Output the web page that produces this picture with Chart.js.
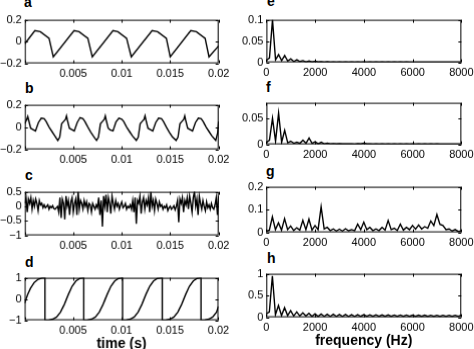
<!DOCTYPE html>
<html>
<head>
<meta charset="utf-8">
<script src="https://cdn.jsdelivr.net/npm/chart.js@4.4.0/dist/chart.umd.min.js"></script>
<style>
  body { margin: 0; width: 474px; height: 349px; overflow: hidden; background: #fff; position: relative;
         font-family: "Liberation Sans", Arial, Helvetica, sans-serif; }
  canvas { position: absolute; }
  .lbl { position: absolute; font-weight: bold; font-size: 14px; line-height: 14px; color: #000; }
</style>
</head>
<body>
<div class="lbl" style="left:24px;top:-5px">a</div>
<div class="lbl" style="left:25px;top:81px">b</div>
<div class="lbl" style="left:25px;top:168px">c</div>
<div class="lbl" style="left:25px;top:255px">d</div>
<div class="lbl" style="left:267px;top:-6px">e</div>
<div class="lbl" style="left:266px;top:80px">f</div>
<div class="lbl" style="left:266px;top:164px">g</div>
<div class="lbl" style="left:267px;top:251px">h</div>

<canvas id="a"></canvas><canvas id="b"></canvas><canvas id="c"></canvas><canvas id="d"></canvas>
<canvas id="e"></canvas><canvas id="f"></canvas><canvas id="g"></canvas><canvas id="h"></canvas>

<script>
// ---- data: time signals (s, amplitude) ----
const aTime = [0, 0.00104, 0.0016, 0.0025, 0.00294, 0.00508, 0.0056, 0.0065, 0.00696, 0.0091, 0.0096,
  0.0105, 0.01098, 0.01313, 0.0137, 0.0146, 0.015, 0.01712, 0.0177, 0.0186, 0.019, 0.02];
const aVals = [-0.02, 0.1, 0.09, 0.03, -0.14, 0.1, 0.09, 0.03, -0.14, 0.1, 0.09,
  0.03, -0.14, 0.1, 0.09, 0.03, -0.14, 0.1, 0.09, 0.03, -0.14, -0.04];

const bTime = [0, 0.0002, 0.0003, 0.0004, 0.0006, 0.0008, 0.0011, 0.0014, 0.0017, 0.002, 0.0022, 0.0025, 0.0028, 0.0031, 0.0034,
  0.0036, 0.0038, 0.004, 0.0042, 0.0043, 0.0044, 0.0046, 0.0048, 0.0051, 0.0054, 0.0057, 0.006, 0.0062, 0.0065, 0.0068, 0.0071, 0.0074,
  0.0076, 0.0078, 0.008, 0.0082, 0.0083, 0.0084, 0.0086, 0.0088, 0.0091, 0.0094, 0.0097, 0.01, 0.0102, 0.0105, 0.0108, 0.0111, 0.0115,
  0.0117, 0.0119, 0.0121, 0.0123, 0.0124, 0.0125, 0.0127, 0.0129, 0.0132, 0.0135, 0.0138, 0.0141, 0.0143, 0.0146, 0.0149, 0.0152, 0.0156,
  0.0158, 0.016, 0.0162, 0.0164, 0.0165, 0.0166, 0.0168, 0.017, 0.0173, 0.0176, 0.0179, 0.0182, 0.0184, 0.0187, 0.019, 0.0193, 0.0197,
  0.0199, 0.02];
const bVals = [0.03, 0.07, 0.095, 0.06, -0.01, -0.02, -0.035, 0.04, 0.08, 0.075, 0.05, 0.0, -0.04, -0.08, -0.12,
  -0.09, 0.03, 0.05, 0.07, 0.1, 0.06, -0.01, -0.02, -0.035, 0.04, 0.085, 0.075, 0.05, 0.0, -0.045, -0.085, -0.12,
  -0.09, 0.03, 0.05, 0.07, 0.1, 0.06, -0.01, -0.025, -0.035, 0.045, 0.08, 0.07, 0.05, 0.0, -0.04, -0.08, -0.12,
  -0.09, 0.03, 0.05, 0.07, 0.1, 0.06, -0.01, -0.02, -0.035, 0.04, 0.08, 0.075, 0.05, 0.0, -0.045, -0.085, -0.12,
  -0.09, 0.03, 0.05, 0.07, 0.1, 0.06, -0.01, -0.02, -0.035, 0.04, 0.08, 0.075, 0.05, 0.0, -0.04, -0.08, -0.12,
  -0.05, 0.05];

// noise signal, one value every 0.000125 s
const cStep = 0.000125;
const cVals = [0.1, 0.3, -0.2, 0.25, 0.1, 0.3, -0.1, 0.2,
  0.0, 0.25, 0.1, -0.15, 0.2, 0.05, 0.1, -0.05,
  0.05, -0.05, 0.0, 0.05, -0.1, 0.0, -0.05, 0.02, -0.08, -0.1, -0.05, 0.0,
  -0.2, 0.3, -0.4, 0.25, 0.1, -0.45, 0.35, 0.0, 0.2, -0.3, 0.15, 0.3, -0.2, 0.1, 0.25, -0.3, 0.5, -0.1, 0.2, 0.1,
  -0.1, 0.2, 0.0, 0.15, -0.15, 0.1, 0.05, -0.2, 0.1, 0.0, -0.1, 0.05, -0.05,
  0.3, -0.3, 0.2, -0.7, 0.35, 0.0, 0.4, -0.2, 0.3, 0.1, -0.25, 0.35,
  0.1, -0.1, 0.2, 0.0, 0.1, -0.1, 0.05, 0.15, -0.05, 0.0, 0.1, -0.1, 0.0, -0.05, 0.05, -0.1,
  0.2, -0.2, 0.3, -0.6, 0.2, 0.1, 0.35, -0.25, 0.15, 0.3, -0.1, 0.2,
  0.05, 0.3, -0.2, 0.5, 0.0, 0.2, -0.15, 0.25, 0.1, -0.1, 0.15, 0.0,
  0.05, -0.1, 0.0, -0.05, 0.05, -0.15, -0.05, 0.0, -0.1, -0.05, 0.02, -0.12, 0.0,
  0.2, -0.55, 0.25, 0.1, 0.3, -0.2, 0.2, 0.05, 0.3, -0.1, 0.35, 0.1, -0.2, 0.3, 0.5,
  0.0, 0.25, -0.3, 0.35, 0.1, -0.1, 0.2, 0.0, -0.15, 0.15, -0.05, 0.05, -0.1, 0.1, -0.05, -0.1, 0.05, 0.3, -0.3, 0.35];
const cTime = cVals.map((v, i) => i * cStep);

const dTime = [0, 0.0003, 0.0006, 0.001, 0.0014, 0.0018, 0.0021,
  0.0021, 0.0025, 0.0029, 0.0033, 0.0037, 0.0041, 0.0045, 0.0049, 0.0053, 0.0057, 0.0061,
  0.0061, 0.0065, 0.0069, 0.0073, 0.0077, 0.0081, 0.0085, 0.0089, 0.0093, 0.0097, 0.0101,
  0.0101, 0.0105, 0.0109, 0.0113, 0.0117, 0.0121, 0.0125, 0.0129, 0.0133, 0.0137, 0.0142,
  0.0142, 0.0146, 0.015, 0.0154, 0.0158, 0.0162, 0.0166, 0.017, 0.0174, 0.0178, 0.0182,
  0.0182, 0.0186, 0.019, 0.0194, 0.0198, 0.02];
const dVals = [-0.2, 0.2, 0.5, 0.78, 0.93, 0.99, 1,
  -1, -0.99, -0.95, -0.85, -0.62, -0.25, 0.2, 0.6, 0.85, 0.97, 1,
  -1, -0.99, -0.95, -0.85, -0.62, -0.25, 0.2, 0.6, 0.85, 0.97, 1,
  -1, -0.99, -0.95, -0.85, -0.62, -0.25, 0.2, 0.6, 0.85, 0.97, 1,
  -1, -0.99, -0.95, -0.85, -0.62, -0.25, 0.2, 0.6, 0.85, 0.97, 1,
  -1, -0.99, -0.95, -0.85, -0.62, -0.35];

// ---- data: spectra, one value every 125 Hz ----
const freqStep = 125;
const eVals = [0.005, 0.01, 0.1, 0.006, 0.018, 0.004, 0.016, 0.003, 0.008, 0.002,
  0.006, 0.002, 0.004, 0.001, 0.003, 0.001, 0.0025, 0.001, 0.0015, 0.0006,
  0.0015, 0.0005, 0.0012, 0.0005, 0.0012, 0.0004, 0.001, 0.0004, 0.001, 0.0004,
  0.001, 0.0004, 0.0009, 0.0004, 0.0009, 0.0003, 0.0008, 0.0003, 0.0008, 0.0003,
  0.0008, 0.0003, 0.0007, 0.0003, 0.0007, 0.0003, 0.0007, 0.0003, 0.0006, 0.0003,
  0.0006, 0.0003, 0.0006, 0.0003, 0.0006, 0.0003, 0.0005, 0.0003, 0.0005, 0.0003,
  0.0005, 0.0003, 0.0005, 0.0003, 0.0005];
const fVals = [0.004, 0.008, 0.05, 0.006, 0.06, 0.004, 0.027, 0.003, 0.006, 0.002,
  0.004, 0.002, 0.008, 0.002, 0.012, 0.002, 0.005, 0.001, 0.004, 0.001,
  0.002, 0.001, 0.0015, 0.0007, 0.0012, 0.0006, 0.001, 0.0006, 0.001, 0.0005,
  0.0012, 0.0006, 0.002, 0.0006, 0.001, 0.0005, 0.0009, 0.0005, 0.0008, 0.0005,
  0.0008, 0.0004, 0.0008, 0.0004, 0.0007, 0.0004, 0.0008, 0.0004, 0.001, 0.0004,
  0.0007, 0.0004, 0.0006, 0.0004, 0.0006, 0.0004, 0.0006, 0.0003, 0.0005, 0.0003,
  0.0005, 0.0003, 0.0005, 0.0003, 0.0005];
const gVals = [0.005, 0.01, 0.068, 0.012, 0.042, 0.01, 0.06, 0.012, 0.028, 0.008,
  0.02, 0.01, 0.053, 0.012, 0.058, 0.01, 0.03, 0.012, 0.112, 0.015,
  0.022, 0.008, 0.015, 0.006, 0.014, 0.006, 0.016, 0.007, 0.012, 0.008,
  0.036, 0.012, 0.045, 0.012, 0.022, 0.008, 0.015, 0.008, 0.022, 0.01,
  0.052, 0.012, 0.018, 0.008, 0.036, 0.01, 0.022, 0.012, 0.03, 0.014,
  0.032, 0.015, 0.025, 0.018, 0.05, 0.03, 0.078, 0.035, 0.03, 0.012,
  0.015, 0.006, 0.012, 0.004, 0.006];
const hVals = [0.08, 0.12, 0.95, 0.06, 0.27, 0.04, 0.22, 0.04, 0.15, 0.03,
  0.12, 0.03, 0.1, 0.03, 0.09, 0.02, 0.08, 0.02, 0.075, 0.02,
  0.07, 0.02, 0.068, 0.02, 0.065, 0.02, 0.063, 0.02, 0.06, 0.02,
  0.06, 0.02, 0.058, 0.02, 0.056, 0.02, 0.055, 0.02, 0.054, 0.02,
  0.052, 0.02, 0.051, 0.02, 0.05, 0.02, 0.05, 0.02, 0.049, 0.02,
  0.048, 0.02, 0.047, 0.02, 0.046, 0.02, 0.046, 0.02, 0.045, 0.02,
  0.045, 0.02, 0.044, 0.02, 0.044];
const freqs = eVals.map((v, i) => i * freqStep);

// ---- tick labels ----
const timeTicks = [0, 0.005, 0.01, 0.015, 0.02];
const timeLabels = ['', '0.005', '0.01', '0.015', '0.02'];
const freqTicks = [0, 2000, 4000, 6000, 8000];
const freqLabels = ['0', '2000', '4000', '6000', '8000'];
const ticks02 = [-0.2, 0, 0.2], labels02 = ['\u22120.2', '0', '0.2'];
const ticksC = [-1, -0.5, 0, 0.5], labelsC = ['\u22121', '\u22120.5', '0', '0.5'];
const ticksD = [-1, 0, 1], labelsD = ['\u22121', '0', '1'];
const ticksE = [0, 0.05, 0.1], labelsE = ['0', '0.05', '0.1'];
const ticksF = [0, 0.05], labelsF = ['0', '0.05'];
const ticksG = [0, 0.1, 0.2], labelsG = ['0', '0.1', '0.2'];
const ticksH = [0, 0.5, 1], labelsH = ['0', '0.5', '1'];

const FONT = "'Liberation Sans', Arial, Helvetica, sans-serif";

// box around the plot with inward ticks on all four sides
const boxPlugin = {
  id: 'matlabBox',
  afterDraw(chart) {
    const { ctx, chartArea: a, scales } = chart;
    ctx.save();
    ctx.strokeStyle = '#000';
    ctx.lineWidth = 1;
    ctx.strokeRect(a.left + 0.5, a.top + 0.5, a.right - a.left - 1, a.bottom - a.top - 1);
    ctx.beginPath();
    scales.x.ticks.forEach(t => {
      const px = Math.round(scales.x.getPixelForValue(t.value)) + 0.5;
      ctx.moveTo(px, a.bottom); ctx.lineTo(px, a.bottom - 3);
      ctx.moveTo(px, a.top); ctx.lineTo(px, a.top + 3);
    });
    scales.y.ticks.forEach(t => {
      const py = Math.round(scales.y.getPixelForValue(t.value)) + 0.5;
      ctx.moveTo(a.left, py); ctx.lineTo(a.left + 3, py);
      ctx.moveTo(a.right, py); ctx.lineTo(a.right - 3, py);
    });
    ctx.stroke();
    ctx.restore();
  }
};

// panels: box = [left, top, width, height] of the plot area in the page
const panels = [
  { id: 'a', box: [25, 20, 193, 43], xs: aTime, ys: aVals, xmax: 0.02, ymin: -0.2, ymax: 0.2, xt: timeTicks, xl: timeLabels, yt: ticks02, yl: labels02 },
  { id: 'b', box: [25, 105, 193, 44], xs: bTime, ys: bVals, xmax: 0.02, ymin: -0.2, ymax: 0.2, xt: timeTicks, xl: timeLabels, yt: ticks02, yl: labels02 },
  { id: 'c', box: [25, 192, 193, 43], xs: cTime, ys: cVals, xmax: 0.02, ymin: -1, ymax: 0.5, xt: timeTicks, xl: timeLabels, yt: ticksC, yl: labelsC },
  { id: 'd', box: [25, 278, 193, 42], xs: dTime, ys: dVals, xmax: 0.02, ymin: -1, ymax: 1, xt: timeTicks, xl: timeLabels, yt: ticksD, yl: labelsD, title: 'time (s)' },
  { id: 'e', box: [266, 20, 195, 42], xs: freqs, ys: eVals, xmax: 8000, ymin: 0, ymax: 0.1, xt: freqTicks, xl: freqLabels, yt: ticksE, yl: labelsE },
  { id: 'f', box: [266, 103, 195, 41], xs: freqs, ys: fVals, xmax: 8000, ymin: 0, ymax: 0.08, xt: freqTicks, xl: freqLabels, yt: ticksF, yl: labelsF },
  { id: 'g', box: [266, 187, 195, 45], xs: freqs, ys: gVals, xmax: 8000, ymin: 0, ymax: 0.2, xt: freqTicks, xl: freqLabels, yt: ticksG, yl: labelsG },
  { id: 'h', box: [266, 274, 195, 43], xs: freqs, ys: hVals, xmax: 8000, ymin: 0, ymax: 1, xt: freqTicks, xl: freqLabels, yt: ticksH, yl: labelsH, title: 'frequency (Hz)' }
];

function makePanel(p) {
  const canvas = document.getElementById(p.id);
  canvas.width = p.box[2] + 60;
  canvas.height = p.box[3] + (p.title ? 45 : 30);
  const tickFont = { family: FONT, size: 11 };
  const chart = new Chart(canvas, {
    type: 'line',
    data: {
      datasets: [{
        data: p.xs.map((x, i) => ({ x: x, y: p.ys[i] })),
        borderColor: '#000',
        borderWidth: 1.4,
        pointRadius: 0,
        tension: 0,
        fill: false
      }]
    },
    options: {
      responsive: false,
      maintainAspectRatio: false,
      animation: false,
      events: [],
      layout: { padding: 0 },
      plugins: { legend: { display: false }, tooltip: { enabled: false } },
      scales: {
        x: {
          type: 'linear', min: 0, max: p.xmax,
          grid: { display: false, drawTicks: false },
          border: { display: false },
          afterBuildTicks: s => { s.ticks = p.xt.map(v => ({ value: v })); },
          ticks: { autoSkip: false, maxRotation: 0, padding: 4, color: '#000', font: tickFont,
                   callback: (v, i) => p.xl[i] },
          title: p.title
            ? { display: true, text: p.title, color: '#000', font: { family: FONT, size: 14, weight: 'bold' }, padding: { top: -6, bottom: 0 } }
            : { display: false }
        },
        y: {
          type: 'linear', min: p.ymin, max: p.ymax,
          grid: { display: false, drawTicks: false },
          border: { display: false },
          afterBuildTicks: s => { s.ticks = p.yt.map(v => ({ value: v })); },
          ticks: { autoSkip: false, padding: 3, color: '#000', font: tickFont,
                   callback: (v, i) => p.yl[i] }
        }
      }
    },
    plugins: [boxPlugin]
  });

  // size the canvas so the plot area lands exactly on the reference box
  let ca = chart.chartArea;
  chart.resize(chart.width + p.box[2] - (ca.right - ca.left), chart.height + p.box[3] - (ca.bottom - ca.top));
  ca = chart.chartArea;
  canvas.style.left = (p.box[0] - ca.left) + 'px';
  canvas.style.top = (p.box[1] - ca.top) + 'px';
}

panels.forEach(makePanel);
</script>
</body>
</html>
